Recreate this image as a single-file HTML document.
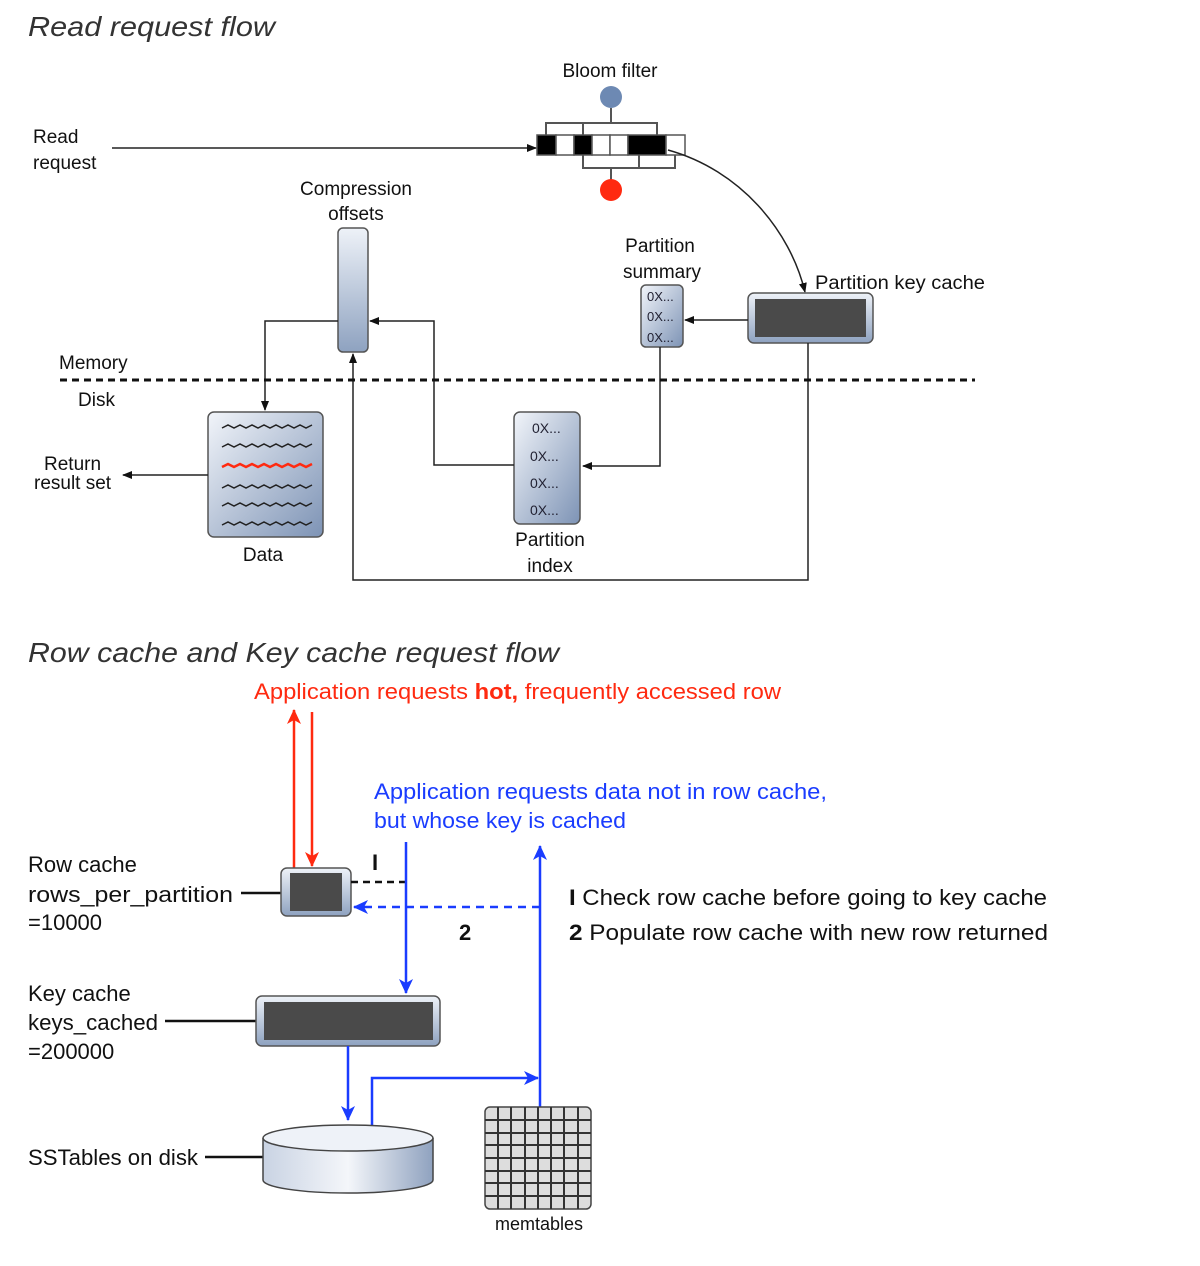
<!DOCTYPE html>
<html><head><meta charset="utf-8"><style>
html,body{margin:0;padding:0;background:#fff;}
svg{display:block;}
text{font-family:"Liberation Sans",sans-serif;}
</style></head><body>
<svg width="1200" height="1266" viewBox="0 0 1200 1266" xmlns="http://www.w3.org/2000/svg">
<defs>
<marker id="ak" markerWidth="10" markerHeight="10" refX="9" refY="5" orient="auto" markerUnits="userSpaceOnUse"><path d="M0,1 L10,5 L0,9 z" fill="#111"/></marker>
<marker id="ab" markerWidth="16" markerHeight="16" refX="14" refY="8" orient="auto" markerUnits="userSpaceOnUse"><path d="M0,1 L15,8 L0,15 L4,8 z" fill="#1a3cff"/></marker>
<marker id="ar" markerWidth="16" markerHeight="16" refX="14" refY="8" orient="auto" markerUnits="userSpaceOnUse"><path d="M0,1 L15,8 L0,15 L4,8 z" fill="#ff2a10"/></marker>
<linearGradient id="g" x1="0" y1="0" x2="1" y2="1"><stop offset="0" stop-color="#f2f5fa"/><stop offset="1" stop-color="#7d93b5"/></linearGradient>
<linearGradient id="gv" x1="0" y1="0" x2="0" y2="1"><stop offset="0" stop-color="#eef2f8"/><stop offset="1" stop-color="#8ea2c0"/></linearGradient>
<linearGradient id="gh" x1="0" y1="0" x2="1" y2="0"><stop offset="0" stop-color="#c9d3e3"/><stop offset="0.5" stop-color="#f4f6fa"/><stop offset="1" stop-color="#8fa2bf"/></linearGradient>
</defs>

<text x="28" y="36" font-size="28" font-style="italic" fill="#333" textLength="247" lengthAdjust="spacingAndGlyphs">Read request flow</text>
<text x="28" y="662" font-size="28" font-style="italic" fill="#333" textLength="531" lengthAdjust="spacingAndGlyphs">Row cache and Key cache request flow</text>

<!-- Bloom filter -->
<text x="610" y="77" font-size="19" text-anchor="middle" fill="#111">Bloom filter</text>
<circle cx="611" cy="97" r="11" fill="#6d89b3"/>
<line x1="611" y1="108" x2="611" y2="123" stroke="#555" stroke-width="2"/>
<polyline points="546,135 546,123 657,123 657,135" fill="none" stroke="#555" stroke-width="2"/>
<line x1="583" y1="123" x2="583" y2="135" stroke="#555" stroke-width="2"/>
<g stroke="#555" stroke-width="1.5">
<rect x="537" y="135" width="19" height="20" fill="#000"/>
<rect x="556" y="135" width="18" height="20" fill="#fff"/>
<rect x="574" y="135" width="18" height="20" fill="#000"/>
<rect x="592" y="135" width="18" height="20" fill="#fff"/>
<rect x="610" y="135" width="18" height="20" fill="#fff"/>
<rect x="628" y="135" width="38" height="20" fill="#000"/>
<rect x="666" y="135" width="19" height="20" fill="#fff"/>
</g>
<polyline points="583,155 583,168 675,168 675,155" fill="none" stroke="#555" stroke-width="2"/>
<line x1="639" y1="155" x2="639" y2="168" stroke="#555" stroke-width="2"/>
<line x1="611" y1="168" x2="611" y2="180" stroke="#555" stroke-width="2"/>
<circle cx="611" cy="190" r="11" fill="#ff2a10"/>

<text x="33" y="143" font-size="19" fill="#111">Read</text>
<text x="33" y="169" font-size="19" fill="#111">request</text>
<line x1="112" y1="148" x2="536" y2="148" stroke="#222" stroke-width="1.5" marker-end="url(#ak)"/>

<path d="M668,150 C740,170 790,230 805,292" fill="none" stroke="#222" stroke-width="1.5" marker-end="url(#ak)"/>

<!-- Partition key cache -->
<text x="815" y="289" font-size="19" fill="#111" textLength="170" lengthAdjust="spacingAndGlyphs">Partition key cache</text>
<rect x="748" y="293" width="125" height="50" rx="6" fill="url(#gv)" stroke="#555" stroke-width="1.5"/>
<rect x="755" y="299" width="111" height="38" fill="#4a4a4a"/>

<!-- Partition summary -->
<text x="660" y="252" font-size="19" text-anchor="middle" fill="#111">Partition</text>
<text x="662" y="278" font-size="19" text-anchor="middle" fill="#111">summary</text>
<rect x="641" y="285" width="42" height="62" rx="5" fill="url(#g)" stroke="#555" stroke-width="1.5"/>
<text x="647" y="301" font-size="13" fill="#223">0X...</text>
<text x="647" y="321" font-size="13" fill="#223">0X...</text>
<text x="647" y="342" font-size="13" fill="#223">0X...</text>
<line x1="748" y1="320" x2="685" y2="320" stroke="#222" stroke-width="1.5" marker-end="url(#ak)"/>
<polyline points="660,347 660,466 583,466" fill="none" stroke="#222" stroke-width="1.5" marker-end="url(#ak)"/>

<!-- Partition index -->
<rect x="514" y="412" width="66" height="112" rx="6" fill="url(#g)" stroke="#555" stroke-width="1.5"/>
<text x="532" y="433" font-size="14" fill="#223">0X...</text>
<text x="530" y="461" font-size="14" fill="#223">0X...</text>
<text x="530" y="488" font-size="14" fill="#223">0X...</text>
<text x="530" y="515" font-size="14" fill="#223">0X...</text>
<text x="550" y="546" font-size="19" text-anchor="middle" fill="#111">Partition</text>
<text x="550" y="572" font-size="19" text-anchor="middle" fill="#111">index</text>
<polyline points="514,465 434,465 434,321 370,321" fill="none" stroke="#222" stroke-width="1.5" marker-end="url(#ak)"/>

<!-- Compression offsets -->
<text x="356" y="195" font-size="19" text-anchor="middle" fill="#111">Compression</text>
<text x="356" y="220" font-size="19" text-anchor="middle" fill="#111">offsets</text>
<rect x="338" y="228" width="30" height="124" rx="5" fill="url(#gv)" stroke="#555" stroke-width="1.5"/>
<polyline points="338,321 265,321 265,410" fill="none" stroke="#222" stroke-width="1.5" marker-end="url(#ak)"/>
<polyline points="808,343 808,580 353,580 353,354" fill="none" stroke="#222" stroke-width="1.5" marker-end="url(#ak)"/>

<!-- Memory/Disk -->
<text x="59" y="369" font-size="19" fill="#111">Memory</text>
<text x="78" y="406" font-size="19" fill="#111">Disk</text>
<line x1="60" y1="380" x2="975" y2="380" stroke="#111" stroke-width="3" stroke-dasharray="7,5"/>

<!-- Data -->
<rect x="208" y="412" width="115" height="125" rx="6" fill="url(#g)" stroke="#555" stroke-width="1.5"/>
<g fill="none" stroke="#222" stroke-width="1.5">
<path d="M222,428 l6,-3 l6,3 l6,-3 l6,3 l6,-3 l6,3 l6,-3 l6,3 l6,-3 l6,3 l6,-3 l6,3 l6,-3 l6,3 l6,-3"/>
<path d="M222,447 l6,-3 l6,3 l6,-3 l6,3 l6,-3 l6,3 l6,-3 l6,3 l6,-3 l6,3 l6,-3 l6,3 l6,-3 l6,3 l6,-3"/>
<path d="M222,488 l6,-3 l6,3 l6,-3 l6,3 l6,-3 l6,3 l6,-3 l6,3 l6,-3 l6,3 l6,-3 l6,3 l6,-3 l6,3 l6,-3"/>
<path d="M222,506 l6,-3 l6,3 l6,-3 l6,3 l6,-3 l6,3 l6,-3 l6,3 l6,-3 l6,3 l6,-3 l6,3 l6,-3 l6,3 l6,-3"/>
<path d="M222,525 l6,-3 l6,3 l6,-3 l6,3 l6,-3 l6,3 l6,-3 l6,3 l6,-3 l6,3 l6,-3 l6,3 l6,-3 l6,3 l6,-3"/>
</g>
<path d="M222,467 l6,-3 l6,3 l6,-3 l6,3 l6,-3 l6,3 l6,-3 l6,3 l6,-3 l6,3 l6,-3 l6,3 l6,-3 l6,3 l6,-3" fill="none" stroke="#ff2a10" stroke-width="2.5"/>
<text x="263" y="561" font-size="19" text-anchor="middle" fill="#111">Data</text>
<line x1="208" y1="475" x2="123" y2="475" stroke="#222" stroke-width="1.5" marker-end="url(#ak)"/>
<text x="44" y="470" font-size="19" fill="#111">Return</text>
<text x="34" y="489" font-size="19" fill="#111">result set</text>

<!-- Bottom diagram -->
<text x="254" y="699" font-size="22" fill="#ff2a10" textLength="527" lengthAdjust="spacingAndGlyphs">Application requests <tspan font-weight="bold">hot,</tspan> frequently accessed row</text>
<line x1="294" y1="870" x2="294" y2="710" stroke="#ff2a10" stroke-width="2.5" marker-end="url(#ar)"/>
<line x1="312" y1="712" x2="312" y2="866" stroke="#ff2a10" stroke-width="2.5" marker-end="url(#ar)"/>

<text x="374" y="799" font-size="22" fill="#1a3cff" textLength="453" lengthAdjust="spacingAndGlyphs">Application requests data not in row cache,</text>
<text x="374" y="828" font-size="22" fill="#1a3cff" textLength="252" lengthAdjust="spacingAndGlyphs">but whose key is cached</text>

<text x="28" y="872" font-size="22" fill="#111">Row cache</text>
<text x="28" y="902" font-size="22" fill="#111" textLength="205" lengthAdjust="spacingAndGlyphs">rows_per_partition</text>
<text x="28" y="930" font-size="22" fill="#111">=10000</text>
<line x1="241" y1="893" x2="281" y2="893" stroke="#111" stroke-width="2.5"/>
<rect x="281" y="868" width="70" height="48" rx="6" fill="url(#gv)" stroke="#555" stroke-width="1.5"/>
<rect x="290" y="873" width="52" height="38" fill="#4a4a4a"/>
<text x="372" y="870" font-size="22" font-weight="bold" fill="#111">I</text>
<line x1="351" y1="882" x2="406" y2="882" stroke="#111" stroke-width="2.5" stroke-dasharray="7,5"/>
<line x1="406" y1="842" x2="406" y2="993" stroke="#1a3cff" stroke-width="2.5" marker-end="url(#ab)"/>
<line x1="540" y1="907" x2="354" y2="907" stroke="#1a3cff" stroke-width="2.5" stroke-dasharray="8,6" marker-end="url(#ab)"/>
<text x="459" y="940" font-size="22" font-weight="bold" fill="#111">2</text>
<line x1="540" y1="1108" x2="540" y2="846" stroke="#1a3cff" stroke-width="2.5" marker-end="url(#ab)"/>

<text x="569" y="905" font-size="22" fill="#111" textLength="478" lengthAdjust="spacingAndGlyphs"><tspan font-weight="bold">I</tspan> Check row cache before going to key cache</text>
<text x="569" y="940" font-size="22" fill="#111" textLength="479" lengthAdjust="spacingAndGlyphs"><tspan font-weight="bold">2</tspan> Populate row cache with new row returned</text>

<text x="28" y="1001" font-size="22" fill="#111">Key cache</text>
<text x="28" y="1030" font-size="22" fill="#111" textLength="130" lengthAdjust="spacingAndGlyphs">keys_cached</text>
<text x="28" y="1059" font-size="22" fill="#111">=200000</text>
<line x1="165" y1="1021" x2="256" y2="1021" stroke="#111" stroke-width="2.5"/>
<rect x="256" y="996" width="184" height="50" rx="6" fill="url(#gv)" stroke="#555" stroke-width="1.5"/>
<rect x="264" y="1002" width="169" height="38" fill="#4a4a4a"/>
<line x1="348" y1="1046" x2="348" y2="1120" stroke="#1a3cff" stroke-width="2.5" marker-end="url(#ab)"/>
<polyline points="372,1126 372,1078 538,1078" fill="none" stroke="#1a3cff" stroke-width="2.5" marker-end="url(#ab)"/>

<text x="28" y="1165" font-size="22" fill="#111" textLength="170" lengthAdjust="spacingAndGlyphs">SSTables on disk</text>
<line x1="205" y1="1157" x2="263" y2="1157" stroke="#111" stroke-width="2.5"/>
<path d="M263,1138 L263,1180 A85,13 0 0 0 433,1180 L433,1138" fill="url(#gh)" stroke="#444" stroke-width="1.5"/>
<ellipse cx="348" cy="1138" rx="85" ry="13" fill="#eef2f8" stroke="#444" stroke-width="1.5"/>

<rect x="485" y="1107" width="106" height="102" rx="5" fill="#ddd" stroke="#444" stroke-width="1.5"/>
<g stroke="#333" stroke-width="2">
<line x1="498" y1="1107" x2="498" y2="1209"/><line x1="511" y1="1107" x2="511" y2="1209"/><line x1="525" y1="1107" x2="525" y2="1209"/><line x1="538" y1="1107" x2="538" y2="1209"/><line x1="551" y1="1107" x2="551" y2="1209"/><line x1="564" y1="1107" x2="564" y2="1209"/><line x1="578" y1="1107" x2="578" y2="1209"/>
<line x1="485" y1="1120" x2="591" y2="1120"/><line x1="485" y1="1133" x2="591" y2="1133"/><line x1="485" y1="1145" x2="591" y2="1145"/><line x1="485" y1="1158" x2="591" y2="1158"/><line x1="485" y1="1171" x2="591" y2="1171"/><line x1="485" y1="1183" x2="591" y2="1183"/><line x1="485" y1="1196" x2="591" y2="1196"/>
</g>
<text x="539" y="1230" font-size="18" text-anchor="middle" fill="#111">memtables</text>
</svg>
</body></html>
